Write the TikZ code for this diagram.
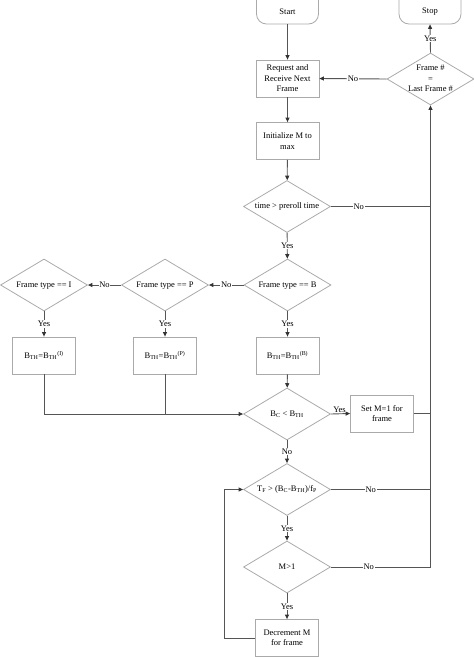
\documentclass[tikz,border=0pt]{standalone}
\usepackage{fontspec}
\setmainfont{Liberation Serif}
\usetikzlibrary{shapes.geometric,arrows.meta}
\definecolor{linegray}{HTML}{555555}
\definecolor{boxgray}{HTML}{AAAAAA}
\definecolor{arrowc}{HTML}{333333}
\newcommand\fs{\fontsize{8.5}{10.5}\selectfont}
\newcommand\dtext[1]{\smash{\makebox[0pt]{\raisebox{-.5ex}{\begin{tabular}{@{}c@{}}#1\end{tabular}}}}}
\newcommand\BTH{B\textsubscript{TH}}
\begin{document}
\begin{tikzpicture}[x=1pt,y=-1pt,
  line/.style={draw=linegray, line width=0.9pt},
  arr/.style={line, -{Triangle[length=4.5pt,width=4pt,color=arrowc]}},
  box/.style={draw=boxgray, line width=0.8pt, minimum width=63pt, minimum height=37pt, inner sep=1pt, align=center, font=\fs},
  dec/.style={diamond, draw=boxgray, line width=0.8pt, minimum width=87pt, minimum height=52pt, inner sep=0pt, font=\fs},
  term/.style={draw=boxgray, line width=0.8pt, rounded corners=10pt, minimum width=62pt, minimum height=44pt, inner sep=0pt},
  lbl/.style={fill=white, inner sep=0.8pt, font=\fs},
  txt/.style={font=\fs, inner sep=0pt}]
\useasboundingbox (0,0) rectangle (474,657);
\clip (0,0) rectangle (474,657);
% terminators
\node[term] (start) at (287.5,2) {};
\node[txt] (starttxt) at (287.5,12) {Start};
\node[term] (stop) at (430,2) {};
\node[txt] (stoptxt) at (430,12) {Stop};
% boxes
\node[box] (req) at (287.5,78.5) {Request and\\Receive Next\\Frame};
\node[box] (init) at (287.5,141) {Initialize M to\\max};
\node[box] (bI) at (44,355.5) {\BTH=\BTH\textsuperscript{(I)}};
\node[box] (bP) at (165,355.5) {\BTH=\BTH\textsuperscript{(P)}};
\node[box] (bB) at (287.5,355.5) {\BTH=\BTH\textsuperscript{(B)}};
\node[box] (setM) at (382,413.5) {Set M=1 for\\frame};
\node[box] (decr) at (287,638) {Decrement M\\for frame};
% decisions
\node[dec] (pre) at (287,206.5) {\dtext{time > preroll time}};
\node[dec] (fr) at (430.5,79) {\dtext{Frame \#\\=\\Last Frame \#}};
\node[dec] (ftB) at (287.5,285) {\dtext{Frame type == B}};
\node[dec] (ftP) at (165,285) {\dtext{Frame type == P}};
\node[dec] (ftI) at (44,285) {\dtext{Frame type == I}};
\node[dec] (bc) at (287,414) {\dtext{B\textsubscript{C} < \BTH}};
\node[dec] (tf) at (287,489.5) {\dtext{T\textsubscript{F} > (B\textsubscript{C}-\BTH)/f\textsubscript{P}}};
\node[dec] (m1) at (287,567) {\dtext{M>1}};
% join points
\coordinate (rx) at (430.5,0);
\coordinate (jI) at (bI.south |- bc.west);
\coordinate (jP) at (bP.south |- bc.west);
\coordinate (lx) at (224,0);
% main flow
\draw[arr] (start) -- (req);
\draw[arr] (req) -- (init);
\draw[arr] (init) -- (pre);
\draw[arr] (pre) -- node[lbl] (y1) {Yes} (ftB);
\draw[arr] (ftB) -- node[lbl] (n1) {No} (ftP);
\draw[arr] (ftP) -- node[lbl] (n2) {No} (ftI);
\draw[arr] (ftI) -- node[lbl] (y2) {Yes} (bI);
\draw[arr] (ftP) -- node[lbl] (y3) {Yes} (bP);
\draw[arr] (ftB) -- node[lbl] (y4) {Yes} (bB);
\draw[arr] (bB) -- (bc);
\draw[line] (bI.south) -- (jI);
\draw[line] (bP.south) -- (jP);
\draw[arr] (jI) -- (bc.west);
\draw[arr] (bc.east) -- node[font=\fs, inner sep=1pt, above, pos=0.45] (y5) {Yes} (setM.west);
\draw[line] (setM.east) -- (setM.east -| rx);
\draw[arr] (bc) -- node[lbl] (n3) {No} (tf);
\draw[arr] (tf) -- node[lbl] (y6) {Yes} (m1);
\draw[arr] (m1) -- node[lbl] (y7) {Yes} (decr);
\draw[line] (tf.east) -- node[lbl, pos=0.4] (n4) {No} (tf.east -| rx);
\draw[line] (pre.east) -- node[lbl, pos=0.28] (n5) {No} (pre.east -| rx);
\draw[arr] (m1.east) -- node[lbl, pos=0.38] (n6) {No} (m1.east -| rx) -- (fr.south);
\draw[arr] (decr.west) -- (decr.west -| lx) -- (tf.west -| lx) -- (tf.west);
\draw[arr] (fr.west) -- node[lbl] (n7) {No} (req.east);
\draw[arr] (fr.north) -- node[lbl] (y8) {Yes} (stop.south);
\end{tikzpicture}
\end{document}
